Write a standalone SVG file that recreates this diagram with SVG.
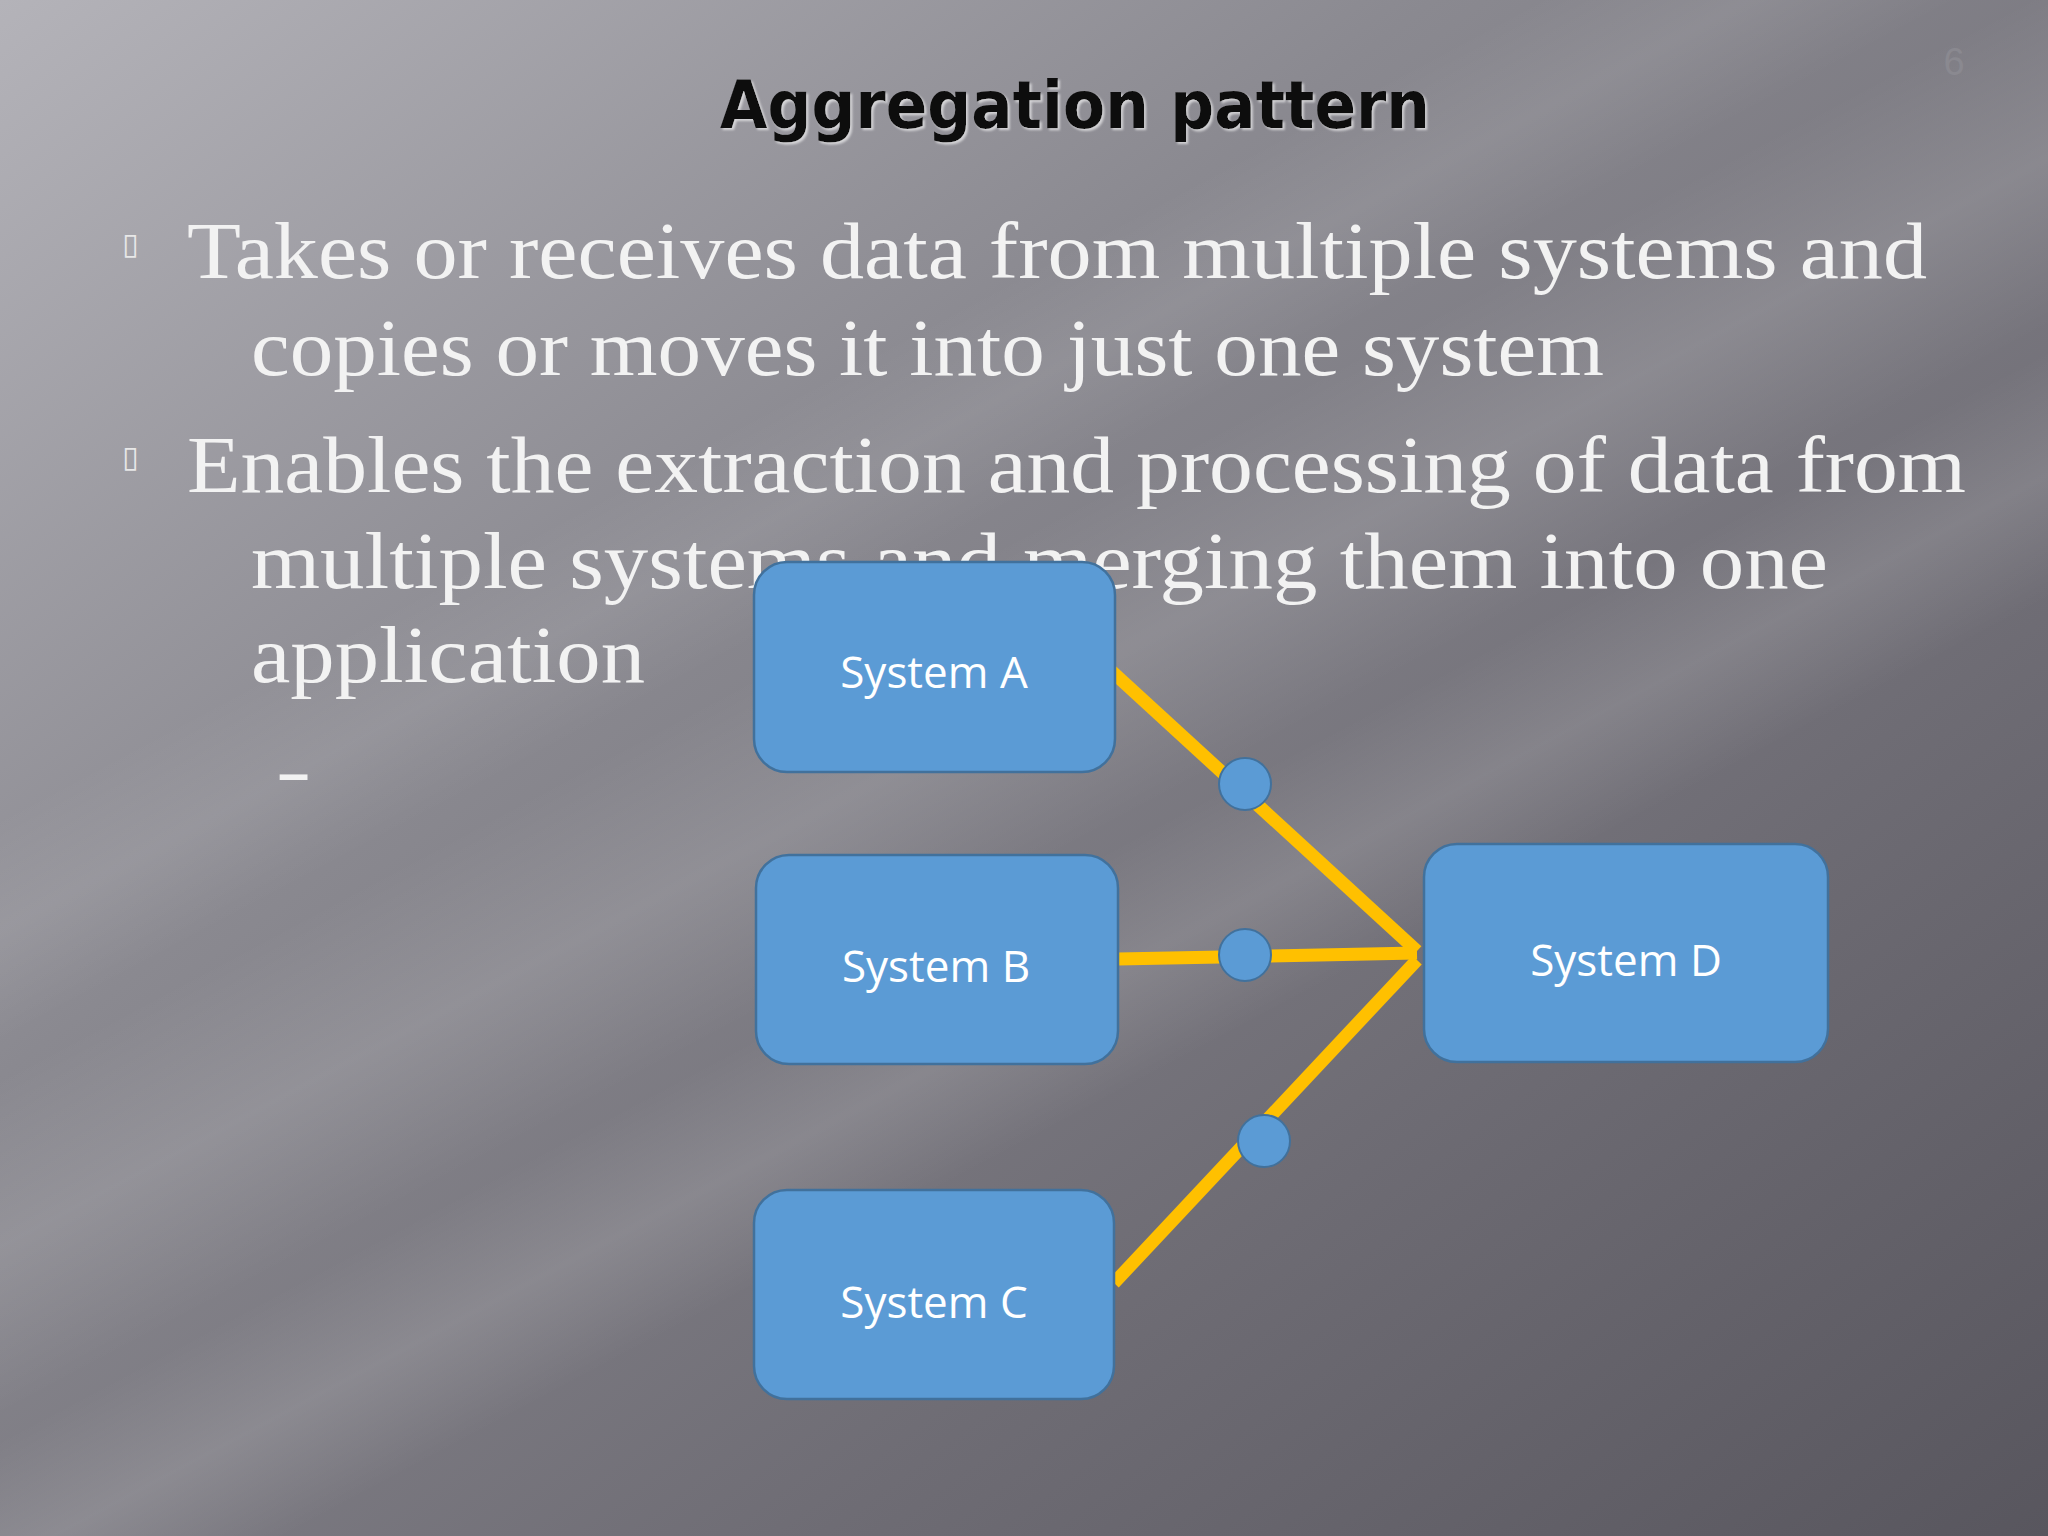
<svg xmlns="http://www.w3.org/2000/svg" width="2048" height="1536" viewBox="0 0 2048 1536">
<defs>
<linearGradient id="bg" x1="0" y1="0" x2="1" y2="1">
<stop offset="0" stop-color="#b4b3b9"/>
<stop offset="0.35" stop-color="#8a8990"/>
<stop offset="0.7" stop-color="#6e6c74"/>
<stop offset="1" stop-color="#58565e"/>
</linearGradient>
<linearGradient id="streak" x1="0" y1="0" x2="0" y2="1">
<stop offset="0" stop-color="#fff" stop-opacity="0"/>
<stop offset="0.5" stop-color="#fff" stop-opacity="0.12"/>
<stop offset="1" stop-color="#fff" stop-opacity="0"/>
</linearGradient>
<filter id="sh"><feDropShadow dx="2" dy="2" stdDeviation="1" flood-color="#fff" flood-opacity="0.6"/></filter>
</defs>
<style>
.body{font-family:"Liberation Serif",serif;font-size:80px;fill:#f2f2f2}
.bul{font-family:"DejaVu Sans",sans-serif;font-size:30px;fill:#e8e8e8}
.box{fill:#5b9bd5;stroke:#41719c;stroke-width:2.5}
.lbl{font-family:"Open Sans","Noto Sans",sans-serif;font-size:44px;fill:#fff;text-anchor:middle;dominant-baseline:central}
.wire{stroke:#ffc000;stroke-width:13;fill:none}
.dot{fill:#5b9bd5;stroke:#41719c;stroke-width:2}
</style>
<rect width="2048" height="1536" fill="url(#bg)"/>
<g transform="rotate(-28 1024 768)">
<rect x="-600" y="560" width="3200" height="300" fill="url(#streak)"/>
<rect x="-600" y="880" width="3200" height="220" fill="url(#streak)"/>
<rect x="-600" y="330" width="3200" height="200" fill="url(#streak)" opacity="0.7"/>
</g>
<text x="1954" y="75" font-family="Liberation Sans,sans-serif" font-size="38" fill="#8a8990" text-anchor="middle">6</text>
<text x="1075" y="128" font-family="DejaVu Sans,sans-serif" font-weight="bold" font-size="66" fill="#111" text-anchor="middle" filter="url(#sh)" textLength="710" lengthAdjust="spacingAndGlyphs">Aggregation pattern</text>
<text class="bul" x="122" y="254">▯</text>
<text class="body" x="187" y="278" textLength="1740" lengthAdjust="spacingAndGlyphs">Takes or receives data from multiple systems and</text>
<text class="body" x="251" y="375" textLength="1353" lengthAdjust="spacingAndGlyphs">copies or moves it into just one system</text>
<text class="bul" x="122" y="467">▯</text>
<text class="body" x="187" y="492" textLength="1779" lengthAdjust="spacingAndGlyphs">Enables the extraction and processing of data from</text>
<text class="body" x="251" y="588" textLength="1577" lengthAdjust="spacingAndGlyphs">multiple systems and merging them into one</text>
<text class="body" x="251" y="682" textLength="394" lengthAdjust="spacingAndGlyphs">application</text>
<text x="278" y="792" font-family="Liberation Sans,sans-serif" font-weight="bold" font-size="56" fill="#f2f2f2">–</text>
<g id="connectors">
<line class="wire" x1="1106" y1="666" x2="1417" y2="951"/>
<line class="wire" x1="1118" y1="959" x2="1417" y2="953"/>
<line class="wire" x1="1114" y1="1283" x2="1417" y2="960"/>
<circle class="dot" cx="1245" cy="784" r="26"/>
<circle class="dot" cx="1245" cy="955" r="26"/>
<circle class="dot" cx="1264" cy="1141" r="26"/>
</g>
<g id="sysA"><rect class="box" x="754" y="562" width="361" height="210" rx="33"/><text class="lbl" x="934" y="671">System A</text></g>
<g id="sysB"><rect class="box" x="756" y="855" width="362" height="209" rx="33"/><text class="lbl" x="936" y="965">System B</text></g>
<g id="sysC"><rect class="box" x="754" y="1190" width="360" height="209" rx="33"/><text class="lbl" x="934" y="1301">System C</text></g>
<g id="sysD"><rect class="box" x="1424" y="844" width="404" height="218" rx="33"/><text class="lbl" x="1626" y="959">System D</text></g>
</svg>
